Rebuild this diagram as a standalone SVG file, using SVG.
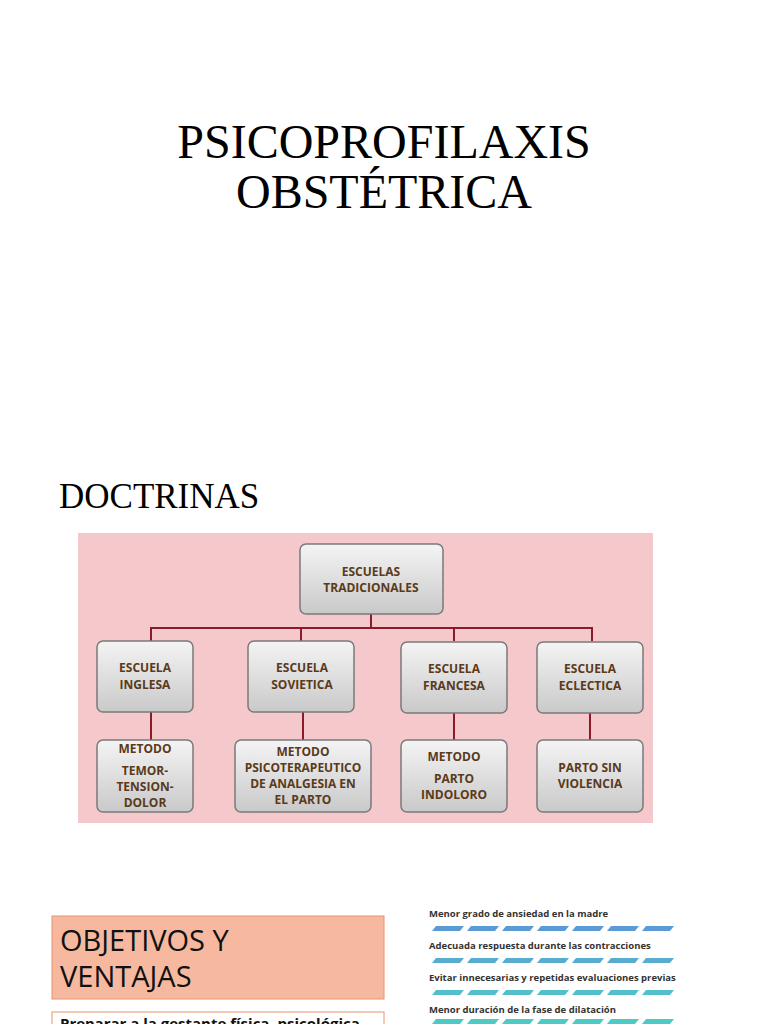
<svg xmlns="http://www.w3.org/2000/svg" width="768" height="1024" viewBox="0 0 768 1024">
<defs>
<linearGradient id="g" x1="0" y1="0" x2="0" y2="1"><stop offset="0" stop-color="#f4f4f4"/><stop offset="1" stop-color="#c9c9c9"/></linearGradient>
<style>
.t{font-family:"Times New Roman","Liberation Serif",serif;fill:#000}
.n{fill:url(#g);stroke:#7a7a7a;stroke-width:1.5}
.nt{font-family:"Open Sans","Liberation Sans",sans-serif;font-weight:bold;font-size:12px;fill:#5a3a1a;text-anchor:middle}
.c{stroke:#8b1a2a;stroke-width:2;fill:none}
.l{font-family:"Open Sans","Liberation Sans",sans-serif;font-weight:bold;font-size:9.5px;fill:#333}
</style>
</defs>
<rect width="768" height="1024" fill="#fff"/>
<text class="t" x="384" y="158" font-size="48" text-anchor="middle">PSICOPROFILAXIS</text>
<text class="t" x="384" y="208" font-size="48" text-anchor="middle">OBSTÉTRICA</text>
<text class="t" x="59" y="508" font-size="35">DOCTRINAS</text>
<rect x="78" y="533" width="575" height="290" fill="#f5c8cb"/>
<g id="connectors">
<path class="c" d="M371 614V628M151 641V628H592V641M301 628V641M454 628V641M151 712V740M303 712V740M454 712V740M590 712V740"/>
</g>
<g id="n0"><rect class="n" x="300" y="544" width="143" height="70" rx="6"/><text class="nt" x="371" y="576">ESCUELAS</text><text class="nt" x="371" y="592">TRADICIONALES</text></g>
<g id="n1"><rect class="n" x="97" y="641" width="96" height="71" rx="6"/><text class="nt" x="145" y="672">ESCUELA</text><text class="nt" x="145" y="689">INGLESA</text></g>
<g id="n2"><rect class="n" x="248" y="641" width="106" height="71" rx="6"/><text class="nt" x="302" y="672">ESCUELA</text><text class="nt" x="302" y="689">SOVIETICA</text></g>
<g id="n3"><rect class="n" x="401" y="642" width="106" height="71" rx="6"/><text class="nt" x="454" y="673">ESCUELA</text><text class="nt" x="454" y="690">FRANCESA</text></g>
<g id="n4"><rect class="n" x="537" y="642" width="106" height="71" rx="6"/><text class="nt" x="590" y="673">ESCUELA</text><text class="nt" x="590" y="690">ECLECTICA</text></g>
<g id="n5"><rect class="n" x="97" y="740" width="96" height="72" rx="6"/><text class="nt" x="145" y="753">METODO</text><text class="nt" x="145" y="775">TEMOR-</text><text class="nt" x="145" y="791">TENSION-</text><text class="nt" x="145" y="807">DOLOR</text></g>
<g id="n6"><rect class="n" x="235" y="740" width="136" height="72" rx="6"/><text class="nt" x="303" y="756">METODO</text><text class="nt" x="303" y="772">PSICOTERAPEUTICO</text><text class="nt" x="303" y="788">DE ANALGESIA EN</text><text class="nt" x="303" y="804">EL PARTO</text></g>
<g id="n7"><rect class="n" x="401" y="740" width="106" height="72" rx="6"/><text class="nt" x="454" y="761">METODO</text><text class="nt" x="454" y="783">PARTO</text><text class="nt" x="454" y="799">INDOLORO</text></g>
<g id="n8"><rect class="n" x="537" y="740" width="106" height="72" rx="6"/><text class="nt" x="590" y="772">PARTO SIN</text><text class="nt" x="590" y="788">VIOLENCIA</text></g>
<rect x="52" y="916" width="332" height="83" fill="#f6b9a0" stroke="#e8946c"/>
<text x="60" y="951" font-family="Open Sans,Liberation Sans,sans-serif" font-size="29" fill="#111">OBJETIVOS Y</text>
<text x="60" y="987" font-family="Open Sans,Liberation Sans,sans-serif" font-size="29" fill="#111">VENTAJAS</text>
<rect x="52" y="1012" width="332" height="20" fill="#fff" stroke="#e8946c"/>
<text x="60" y="1029" font-family="Open Sans,Liberation Sans,sans-serif" font-weight="bold" font-size="15" fill="#111">Preparar a la gestante física, psicológica</text>
<text class="l" x="429" y="917">Menor grado de ansiedad en la madre</text>
<text class="l" x="429" y="949">Adecuada respuesta durante las contracciones</text>
<text class="l" x="429" y="981">Evitar innecesarias y repetidas evaluaciones previas</text>
<text class="l" x="429" y="1013">Menor duración de la fase de dilatación</text>
<g id="stripes">
<path fill="#5b9bd5" d="M432 931l4-5h28l-4 5zM467 931l4-5h28l-4 5zM502 931l4-5h28l-4 5zM537 931l4-5h28l-4 5zM572 931l4-5h28l-4 5zM607 931l4-5h28l-4 5zM642 931l4-5h28l-4 5z"/>
<path fill="#57acd0" d="M432 963l4-5h28l-4 5zM467 963l4-5h28l-4 5zM502 963l4-5h28l-4 5zM537 963l4-5h28l-4 5zM572 963l4-5h28l-4 5zM607 963l4-5h28l-4 5zM642 963l4-5h28l-4 5z"/>
<path fill="#52bfcb" d="M432 995l4-5h28l-4 5zM467 995l4-5h28l-4 5zM502 995l4-5h28l-4 5zM537 995l4-5h28l-4 5zM572 995l4-5h28l-4 5zM607 995l4-5h28l-4 5zM642 995l4-5h28l-4 5z"/>
<path fill="#4fc9c4" d="M432 1024l4-5h28l-4 5zM467 1024l4-5h28l-4 5zM502 1024l4-5h28l-4 5zM537 1024l4-5h28l-4 5zM572 1024l4-5h28l-4 5zM607 1024l4-5h28l-4 5zM642 1024l4-5h28l-4 5z"/>
</g>
</svg>
